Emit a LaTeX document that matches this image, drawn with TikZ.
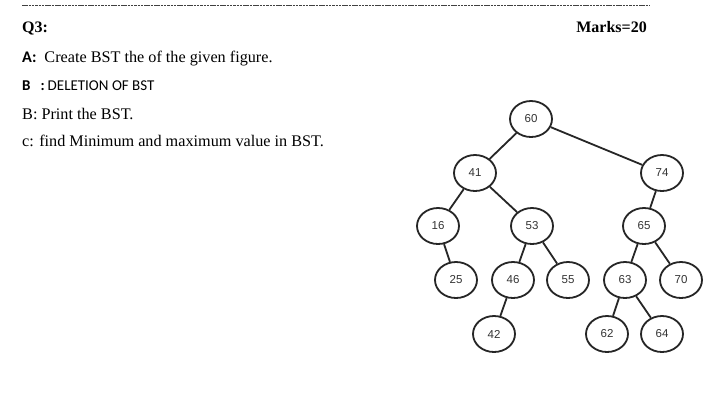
\documentclass[tikz,border=0pt]{standalone}
\usepackage{fontspec}
\usetikzlibrary{shapes.geometric}
\setmainfont{Liberation Serif}
\newfontfamily\calfont{Carlito}
\newfontfamily\arialfont{Liberation Sans}
\begin{document}
\begin{tikzpicture}[x=1pt,y=-1pt,
  bst/.style={draw=black!85,line width=1.8pt,ellipse,minimum width=42pt,minimum height=36pt,inner sep=0pt,font=\arialfont\fontsize{11.5}{13}\selectfont,text=black!80},
  edge/.style={draw=black!85,line width=1.8pt},
  txt/.style={anchor=base west,inner sep=0pt,font=\fontsize{16.2}{19}\selectfont}]
\useasboundingbox[fill=white] (0,0) rectangle (720,416);
\coordinate (dl) at (22,5);
\coordinate (dr) at (650,5);
\draw[black!75,line width=0.9pt,dash pattern=on 2.5pt off 0.8pt] (dl) -- (dr);
\node[txt,font=\bfseries\fontsize{16}{19}\selectfont] (q3) at (22,32) {Q3:};
\node[txt,anchor=base east,font=\bfseries\fontsize{16}{19}\selectfont] (marks) at (647,32) {Marks=20};
\node[txt] (la) at (22,62) {{\calfont\bfseries A:}\hspace{8pt}Create BST the of the given figure.};
\node[txt,font=\calfont\fontsize{15}{17}\selectfont] (lb) at (22,90) {\textbf{B}\hspace{10pt}\textbf{:}\hspace{3pt}DELETION OF BST};
\node[txt] (lb2) at (22,119) {B: Print the BST.};
\node[txt] (lc) at (22,146) {c: find Minimum and maximum value in BST.};
\node[bst] (n60) at (531,119) {60};
\node[bst] (n41) at (475,173) {41};
\node[bst] (n74) at (662,173) {74};
\node[bst] (n16) at (438,226) {16};
\node[bst] (n53) at (532,226) {53};
\node[bst] (n65) at (644,226) {65};
\node[bst] (n25) at (456,280) {25};
\node[bst] (n46) at (513,280) {46};
\node[bst] (n55) at (568,280) {55};
\node[bst] (n63) at (625,280) {63};
\node[bst] (n70) at (681,280) {70};
\node[bst] (n42) at (494,334) {42};
\node[bst] (n62) at (607,334) {62};
\node[bst] (n64) at (662,334) {64};
\draw[edge] (n60) -- (n41);
\draw[edge] (n60) -- (n74);
\draw[edge] (n41) -- (n16);
\draw[edge] (n41) -- (n53);
\draw[edge] (n74) -- (n65);
\draw[edge] (n16) -- (n25);
\draw[edge] (n53) -- (n46);
\draw[edge] (n53) -- (n55);
\draw[edge] (n65) -- (n63);
\draw[edge] (n65) -- (n70);
\draw[edge] (n46) -- (n42);
\draw[edge] (n63) -- (n62);
\draw[edge] (n63) -- (n64);
\end{tikzpicture}
\end{document}
